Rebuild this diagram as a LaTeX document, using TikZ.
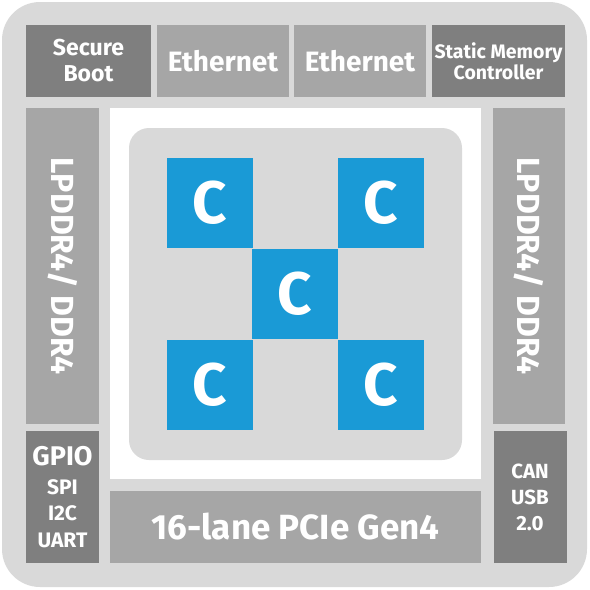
\documentclass[tikz,border=0pt]{standalone}
\usepackage{fontspec}
\setmainfont{Fira Sans}
\definecolor{Shell}{HTML}{D9D9D9}
\definecolor{Mid}{HTML}{A6A6A6}
\definecolor{Dark}{HTML}{7F7F7F}
\definecolor{Core}{HTML}{1A9AD6}
\begin{document}
\begin{tikzpicture}[x=1pt,y=-1pt,
  blk/.style={fill=#1,text=white,inner sep=0pt,align=center,font=\bfseries},
  core/.style={fill=Core,text=white,inner sep=0pt,minimum width=86,minimum height=90,
    font=\bfseries\fontsize{60}{60}\selectfont}]
\useasboundingbox (0,0) rectangle (590,590);
% chip outline and die area
\fill[Shell,rounded corners=38pt] (2,2) rectangle (587,587);
\fill[white] (110,108) rectangle (481,479);
\fill[Shell,rounded corners=20pt] (129,128) rectangle (462,460);
% top row
\node[blk=Dark,minimum width=125,minimum height=72,font=\bfseries\fontsize{23}{26}\selectfont] (boot) at (88.5,61) {Secure\\Boot};
\node[blk=Mid,minimum width=132,minimum height=72,font=\bfseries\fontsize{28}{28}\selectfont] (eth1) at (223,61) {Ethernet};
\node[blk=Mid,minimum width=132,minimum height=72,font=\bfseries\fontsize{28}{28}\selectfont] (eth2) at (360,61) {Ethernet};
\node[blk=Dark,minimum width=133,minimum height=72,font=\bfseries\fontsize{19.5}{21}\selectfont] (smc) at (498.5,61) {Static Memory\\Controller};
% memory sides
\node[blk=Mid,minimum width=316,minimum height=73,rotate=-90,font=\bfseries\fontsize{32}{32}\selectfont] (ddrL) at (62.5,266) {LPDDR4/ DDR4};
\node[blk=Mid,minimum width=316,minimum height=72,rotate=-90,font=\bfseries\fontsize{32}{32}\selectfont] (ddrR) at (529,266) {LPDDR4/ DDR4};
% bottom row
\node[blk=Dark,minimum width=73,minimum height=132,font=\bfseries\fontsize{21}{26.5}\selectfont] (gpio) at (62.5,497) {{\fontsize{27}{27}\selectfont GPIO}\\[2pt]SPI\\I2C\\UART};
\node[blk=Mid,minimum width=371,minimum height=72,font=\bfseries\fontsize{35}{35}\selectfont] (pcie) at (295.5,527) {16-lane PCIe Gen4};
\node[blk=Dark,minimum width=73,minimum height=132,font=\bfseries\fontsize{20.5}{26}\selectfont] (can) at (530,497) {CAN\\USB\\2.0};
% cores
\foreach \n/\cx/\cy in {coreA/209.5/203,coreB/381/203,coreC/295/293.5,coreD/209.5/384.5,coreE/381/384.5}
  \node[core] (\n) at (\cx,\cy) {C};
\end{tikzpicture}
\end{document}
